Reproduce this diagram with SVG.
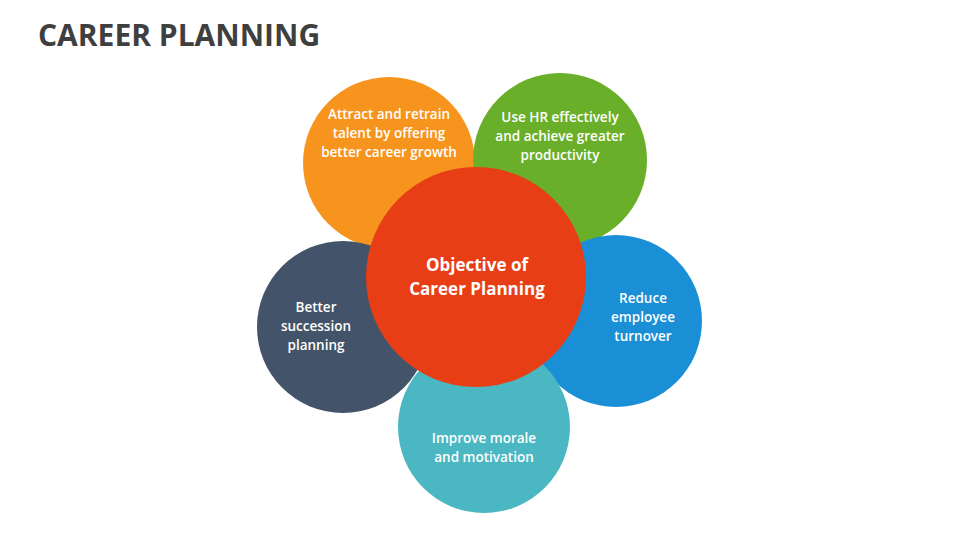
<svg xmlns="http://www.w3.org/2000/svg" width="960" height="540" viewBox="0 0 960 540">
<style>
text{font-family:"Open Sans","Liberation Sans",sans-serif;fill:#fff;text-anchor:middle;font-weight:600;font-size:13.5px}
.t{fill:#3f3f3f;text-anchor:start;font-size:30px;font-weight:700}
.c{font-size:17px;font-weight:700}
</style>
<rect width="960" height="540" fill="#fff"/>
<text class="t" x="38" y="46">CAREER PLANNING</text>
<g id="n-attract"><circle cx="389" cy="163" r="86" fill="#F7941D"/>
<text x="389" y="119">Attract and retrain</text><text x="389" y="138">talent by offering</text><text x="389" y="157">better career growth</text></g>
<g id="n-hr"><circle cx="560" cy="160" r="87" fill="#6AAF2A"/>
<text x="560" y="122">Use HR effectively</text><text x="560" y="141">and achieve greater</text><text x="560" y="160">productivity</text></g>
<g id="n-reduce"><circle cx="616" cy="321" r="86" fill="#1B8FD6"/>
<text x="643" y="303">Reduce</text><text x="643" y="322">employee</text><text x="643" y="341">turnover</text></g>
<g id="n-improve"><circle cx="484" cy="427" r="86" fill="#4BB7C2"/>
<text x="484" y="443">Improve morale</text><text x="484" y="462">and motivation</text></g>
<g id="n-better"><circle cx="343" cy="327" r="86" fill="#435369"/>
<text x="316" y="312">Better</text><text x="316" y="331">succession</text><text x="316" y="350">planning</text></g>
<g id="n-center"><circle cx="476" cy="277" r="110" fill="#E73E16"/>
<text class="c" x="477" y="271">Objective of</text><text class="c" x="477" y="295">Career Planning</text></g>
<g id="connectors"></g>
</svg>
